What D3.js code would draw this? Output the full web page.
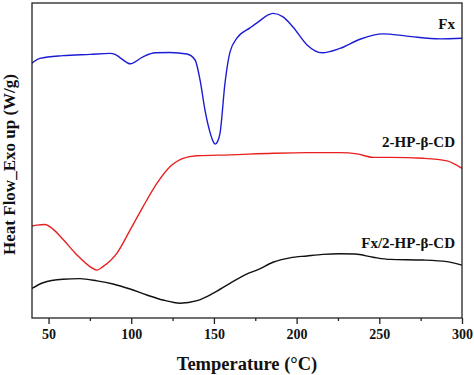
<!DOCTYPE html>
<html>
<head>
<meta charset="utf-8">
<script src="https://cdn.jsdelivr.net/npm/d3@7"></script>
<style>
  html, body { margin: 0; padding: 0; background: #fff; }
  text { font-family: "Liberation Serif", "Times New Roman", serif; font-weight: bold; }
</style>
</head>
<body>
<div id="chart"></div>
<script>
// temperatures (°C) and heat flow readings (arbitrary offset units, exo up)
const fxTemp = [40, 44.8, 58.7, 75.1, 87.2, 90.2, 94.4, 99.3, 107.1, 114.4, 123.4, 133.7, 138.6, 141.6,
  144.6, 147.6, 149.4, 150.7, 152.2, 153.7, 156.7, 159.7, 164.0, 171.8, 176.0, 185.7, 191.8, 197.8,
  206.3, 215.4, 226.2, 238.3, 252.2, 266.7, 286.7, 300];
const fxFlow = [8.09, 8.24, 8.33, 8.37, 8.40, 8.37, 8.22, 8.07, 8.29, 8.42, 8.43, 8.38, 8.19, 7.56,
  6.60, 5.90, 5.62, 5.52, 5.60, 5.87, 7.46, 8.44, 8.89, 9.21, 9.37, 9.67, 9.56, 9.24,
  8.67, 8.42, 8.56, 8.85, 9.02, 8.95, 8.86, 8.88];

const cdTemp = [40, 43, 47.9, 52.7, 58.7, 67.2, 75.1, 79.3, 82.9, 91.4, 99.3, 107.1, 115.6, 123.4,
  131.3, 139.8, 159.7, 185.7, 206.3, 226.2, 236.5, 246.2, 256.5, 276.4, 290.9, 300];
const cdFlow = [2.92, 2.95, 2.97, 2.82, 2.50, 2.00, 1.63, 1.52, 1.63, 2.06, 2.79, 3.53, 4.28, 4.80,
  5.07, 5.15, 5.18, 5.23, 5.25, 5.25, 5.21, 5.10, 5.10, 5.07, 4.99, 4.75];

const mixTemp = [40, 46.7, 58.7, 69.0, 79.3, 89.0, 99.3, 109.5, 119.2, 129.5, 139.8, 149.4, 159.7,
  171.8, 176.0, 185.7, 196.0, 206.3, 215.9, 226.2, 235.3, 246.2, 256.5, 276.4, 290.9, 300];
const mixFlow = [0.94, 1.12, 1.23, 1.25, 1.18, 1.08, 0.92, 0.73, 0.57, 0.47, 0.55, 0.78, 1.10,
  1.44, 1.52, 1.77, 1.91, 1.97, 2.02, 2.04, 2.03, 1.93, 1.86, 1.84, 1.79, 1.68];

const seriesNames = ["Fx", "2-HP-\u03b2-CD", "Fx/2-HP-\u03b2-CD"];
const seriesColors = ["#1c1cd6", "#e8201f", "#111111"];
const majorTicks = [50, 100, 150, 200, 250, 300];
const minorTicks = [75, 125, 175, 225, 275];

const W = 474, H = 375;
const margin = { left: 32, right: 12, top: 3, bottom: 57 }; // frame sits at 32..462, 3..318

const svg = d3.select("#chart").append("svg")
  .attr("width", W)
  .attr("height", H);

const x = d3.scaleLinear().domain([40, 300]).range([margin.left, W - margin.right]);
const y = d3.scaleLinear().domain([0, 10]).range([H - margin.bottom, margin.top]);

const series = [
  { name: seriesNames[0], color: seriesColors[0], temp: fxTemp, flow: fxFlow, labelY: 29 },
  { name: seriesNames[1], color: seriesColors[1], temp: cdTemp, flow: cdFlow, labelY: 147 },
  { name: seriesNames[2], color: seriesColors[2], temp: mixTemp, flow: mixFlow, labelY: 248 },
];

const line = d3.line()
  .x(d => x(d[0]))
  .y(d => y(d[1]))
  .curve(d3.curveMonotoneX);

svg.append("g")
  .selectAll("path")
  .data(series)
  .join("path")
  .attr("fill", "none")
  .attr("stroke", d => d.color)
  .attr("stroke-width", 1.4)
  .attr("d", d => line(d3.zip(d.temp, d.flow)));

// series labels, right aligned inside the frame
svg.append("g")
  .selectAll("text")
  .data(series)
  .join("text")
  .attr("x", x(300) - 7)
  .attr("y", d => d.labelY)
  .attr("text-anchor", "end")
  .attr("font-size", 15)
  .attr("fill", "#111")
  .text(d => d.name);

// frame
svg.append("rect")
  .attr("x", x(40))
  .attr("y", y(10))
  .attr("width", x(300) - x(40))
  .attr("height", y(0) - y(10))
  .attr("fill", "none")
  .attr("stroke", "#222")
  .attr("stroke-width", 1.3);

// bottom axis: major ticks with labels, minor ticks without
const xAxis = svg.append("g")
  .attr("transform", `translate(0 ${y(0)})`)
  .call(d3.axisBottom(x).tickValues(majorTicks).tickSize(6).tickPadding(5));
xAxis.select(".domain").remove();
xAxis.selectAll("line").attr("stroke", "#222").attr("stroke-width", 1.3);
xAxis.selectAll("text")
  .attr("font-size", 14)
  .attr("fill", "#111")
  .style("font-family", "'Liberation Serif', 'Times New Roman', serif");

const xMinor = svg.append("g")
  .attr("transform", `translate(0 ${y(0)})`)
  .call(d3.axisBottom(x).tickValues(minorTicks).tickSize(3).tickFormat(""));
xMinor.select(".domain").remove();
xMinor.selectAll("line").attr("stroke", "#222").attr("stroke-width", 1.3);

// axis titles
svg.append("text")
  .attr("x", (x(40) + x(300)) / 2)
  .attr("y", 370)
  .attr("text-anchor", "middle")
  .attr("font-size", 18.5)
  .attr("fill", "#111")
  .text("Temperature (\u00b0C)");

svg.append("text")
  .attr("transform", `translate(15 ${(y(0) + y(10)) / 2 + 4}) rotate(-90)`)
  .attr("text-anchor", "middle")
  .attr("font-size", 17)
  .attr("fill", "#111")
  .text("Heat Flow_Exo up (W/g)");
</script>
</body>
</html>
